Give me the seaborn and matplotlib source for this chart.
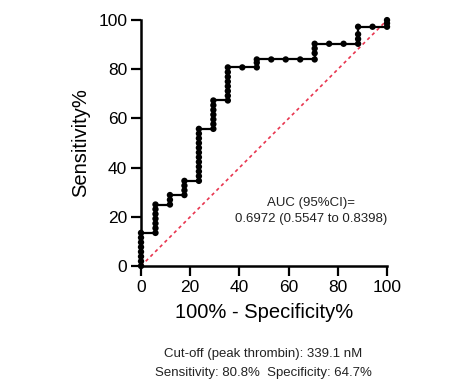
import matplotlib
matplotlib.use("Agg")
import matplotlib.pyplot as plt
import seaborn as sns
import pandas as pd

# ROC points: 100% - Specificity% (x) and Sensitivity% (y)
fpr_pct = [0.0, 0.0, 0.0, 0.0, 0.0, 0.0, 0.0, 0.0,
           5.88, 5.88, 5.88, 5.88, 5.88, 5.88, 5.88,
           11.76, 11.76, 11.76,
           17.65, 17.65, 17.65, 17.65,
           23.53, 23.53, 23.53, 23.53, 23.53, 23.53, 23.53, 23.53, 23.53, 23.53, 23.53, 23.53,
           29.41, 29.41, 29.41, 29.41, 29.41, 29.41, 29.41,
           35.29, 35.29, 35.29, 35.29, 35.29, 35.29, 35.29, 35.29,
           41.18,
           47.06, 47.06, 47.06,
           52.94, 58.82, 64.71,
           70.59, 70.59, 70.59, 70.59,
           76.47, 82.35,
           88.24, 88.24, 88.24, 88.24,
           94.12,
           100.0, 100.0, 100.0]
sens_pct = [0.0, 1.92, 3.85, 5.77, 7.69, 9.62, 11.54, 13.46,
            13.46, 15.38, 17.31, 19.23, 21.15, 23.08, 25.0,
            25.0, 26.92, 28.85,
            28.85, 30.77, 32.69, 34.62,
            34.62, 36.54, 38.46, 40.38, 42.31, 44.23, 46.15, 48.08, 50.0, 51.92, 53.85, 55.77,
            55.77, 57.69, 59.62, 61.54, 63.46, 65.38, 67.31,
            67.31, 69.23, 71.15, 73.08, 75.0, 76.92, 78.85, 80.77,
            80.77,
            80.77, 82.69, 84.0,
            84.0, 84.0, 84.0,
            84.0, 86.54, 88.46, 90.38,
            90.38, 90.38,
            90.38, 92.31, 94.23, 97.3,
            97.3,
            97.3, 98.7, 100.0]

chance_x = [0, 100]
chance_y = [0, 100]

x_ticks = [0, 20, 40, 60, 80, 100]
y_ticks = [0, 20, 40, 60, 80, 100]

auc_text = "AUC (95%CI)=\n0.6972 (0.5547 to 0.8398)"
footer_line1 = "Cut-off (peak thrombin): 339.1 nM"
footer_line2 = "Sensitivity: 80.8%  Specificity: 64.7%"

sns.set_theme(style="ticks")
plt.rcParams["font.family"] = ["Liberation Sans", "DejaVu Sans"]

df = pd.DataFrame({"x": fpr_pct, "y": sens_pct})
diag = pd.DataFrame({"x": chance_x, "y": chance_y})

fig = plt.figure(figsize=(4.74, 3.83), dpi=100)
ax = fig.add_axes([0.2975, 0.3055, 0.519, 0.642])

sns.lineplot(data=diag, x="x", y="y", ax=ax, color="#e8354f", linewidth=1.2,
             linestyle=(0, (2, 2)), sort=False, zorder=2)
sns.lineplot(data=df, x="x", y="y", ax=ax, color="black", linewidth=1.6,
             sort=False, estimator=None, zorder=3)
sns.scatterplot(data=df, x="x", y="y", ax=ax, color="black", s=21,
                edgecolor="none", zorder=4, clip_on=False)
for line in ax.lines:
    line.set_clip_on(False)

ax.set_xlim(0, 100)
ax.set_ylim(0, 100)
ax.set_xticks(x_ticks)
ax.set_yticks(y_ticks)
ax.tick_params(axis="both", length=7, width=1.6, labelsize=12.5, pad=3, color="black", labelcolor="black")
for side in ["top", "right"]:
    ax.spines[side].set_visible(False)
for side in ["left", "bottom"]:
    ax.spines[side].set_linewidth(1.8)
    ax.spines[side].set_color("black")

ax.set_xlabel("100% - Specificity%", fontsize=14.5, labelpad=6, color="black")
ax.set_ylabel("Sensitivity%", fontsize=14.5, labelpad=6, color="black")

ax.text(69, 22.5, auc_text, ha="center", va="center", fontsize=9.5,
        color="#222222", linespacing=1.45)

fig.text(263 / 474, 1 - 354 / 383, footer_line1, ha="center", va="center",
         fontsize=9.5, color="#222222")
fig.text(263 / 474, 1 - 373 / 383, footer_line2, ha="center", va="center",
         fontsize=9.5, color="#222222")

fig.savefig("out.png", dpi=100, facecolor="white")
